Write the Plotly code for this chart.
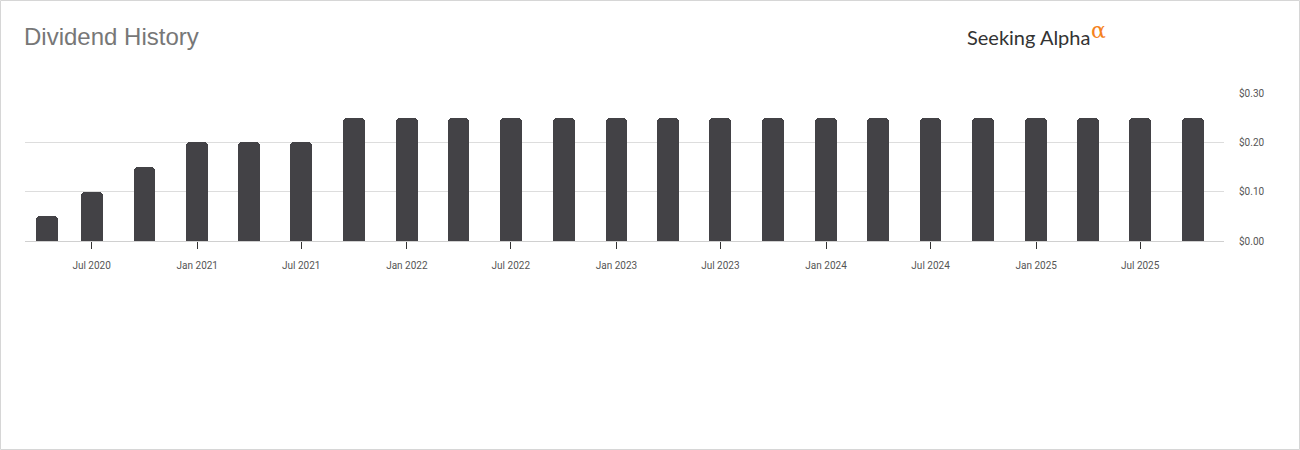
import plotly.graph_objects as go

# quarterly dividend payments (USD per share)
pay_dates = ["2020-04-15", "2020-07-01", "2020-10-01",
             "2021-01-01", "2021-04-01", "2021-07-01", "2021-10-01",
             "2022-01-01", "2022-04-01", "2022-07-01", "2022-10-01",
             "2023-01-01", "2023-04-01", "2023-07-01", "2023-10-01",
             "2024-01-01", "2024-04-01", "2024-07-01", "2024-10-01",
             "2025-01-01", "2025-04-01", "2025-07-01", "2025-10-01"]
dividends = [0.05, 0.10, 0.15,
             0.20, 0.20, 0.20, 0.25,
             0.25, 0.25, 0.25, 0.25,
             0.25, 0.25, 0.25, 0.25,
             0.25, 0.25, 0.25, 0.25,
             0.25, 0.25, 0.25, 0.25]

tick_dates = ["2020-07-01", "2021-01-01", "2021-07-01", "2022-01-01",
              "2022-07-01", "2023-01-01", "2023-07-01", "2024-01-01",
              "2024-07-01", "2025-01-01", "2025-07-01"]
tick_labels = ["Jul 2020", "Jan 2021", "Jul 2021", "Jan 2022",
               "Jul 2022", "Jan 2023", "Jul 2023", "Jan 2024",
               "Jul 2024", "Jan 2025", "Jul 2025"]

y_ticks = [0, 0.10, 0.20, 0.30]

DAY_MS = 86400000

fig = go.Figure()
fig.add_trace(go.Bar(
    x=pay_dates, y=dividends,
    width=38 * DAY_MS,
    marker=dict(color="#434246", cornerradius=4, line=dict(width=0)),
    hovertemplate="%{x|%b %d, %Y}<br>$%{y:.2f}<extra></extra>",
))

fig.update_layout(
    width=1300, height=450,
    margin=dict(l=25, r=76, t=93, b=209),
    paper_bgcolor="white", plot_bgcolor="white",
    showlegend=False,
    font=dict(family="Roboto, Arial, sans-serif", color="#555"),
    title=dict(text="Dividend History", x=24 / 1300, xanchor="left",
               xref="container", y=1 - 37 / 450, yanchor="middle",
               font=dict(size=24, color="#777", family="Liberation Sans, Arial, sans-serif")),
    bargap=0,
)

fig.update_xaxes(
    type="date",
    range=["2020-03-07", "2025-11-24"],
    tickvals=tick_dates, ticktext=tick_labels,
    ticks="outside", ticklen=7, tickcolor="#333", tickwidth=1,
    ticklabelstandoff=8,
    tickfont=dict(size=10, color="#555"),
    showgrid=False, showline=True, linecolor="#d0d0d0", linewidth=1,
    zeroline=False, fixedrange=True,
)

fig.update_yaxes(
    range=[0, 0.30], side="right",
    tickvals=y_ticks, tickformat="$.2f",
    tickfont=dict(size=10, color="#555"),
    ticklabelstandoff=14,
    showgrid=True, gridcolor="#dddddd", gridwidth=1,
    zeroline=False, showline=False, fixedrange=True,
)

# Seeking Alpha logo text
fig.add_annotation(
    text="Seeking Alpha", xref="paper", yref="paper",
    x=(965 - 25) / 1199, y=1 + (93 - 37) / 148,
    xanchor="left", yanchor="middle", showarrow=False,
    font=dict(size=20, color="#333", family="Lato, Noto Sans, sans-serif"),
)
fig.add_annotation(
    text="α", xref="paper", yref="paper",
    x=(1089 - 25) / 1199, y=1 + (93 - 30) / 148,
    xanchor="left", yanchor="middle", showarrow=False,
    font=dict(size=22, color="#f58220", family="DejaVu Serif, serif"),
)

# thin frame around the whole widget
fig.add_shape(
    type="rect", xref="paper", yref="paper",
    x0=-24.5 / 1199, x1=(1299.5 - 25) / 1199,
    y0=-(449.5 - 241) / 148, y1=1 + 92.5 / 148,
    line=dict(color="#d6d6d6", width=1), fillcolor="rgba(0,0,0,0)",
    layer="above",
)

# page body has a default margin; drop it so the figure sits at the window corner
fig.write_html("out.html", config={"displayModeBar": False},
               post_script="document.body.style.margin='0';")
